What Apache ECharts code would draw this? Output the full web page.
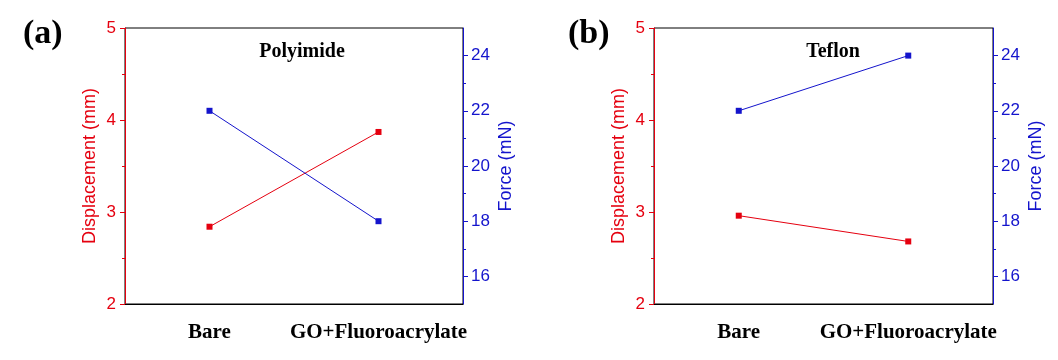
<!DOCTYPE html>
<html><head><meta charset="utf-8">
<script src="https://cdn.jsdelivr.net/npm/echarts@6/dist/echarts.min.js"></script>
<style>html,body{margin:0;padding:0;background:#fff}#c{width:1058px;height:360px}</style>
</head><body><div id="c"></div>
<script>
const categories = ['Bare', 'GO+Fluoroacrylate'];
const panelTitles = ['Polyimide', 'Teflon'];
const panelLabels = ['(a)', '(b)'];
const dispPolyimide = [2.84, 3.87];
const forcePolyimide = [22.0, 18.0];
const dispTeflon = [2.96, 2.68];
const forceTeflon = [22.0, 24.0];
const dispTicks = [2, 3, 4, 5];
const forceMajorTicks = [16, 18, 20, 22, 24];
const forceMinorTicks = [17, 19, 21, 23];

const RED = '#e5000f', BLUE = '#1414cc';
const serif = '"Liberation Serif", "Times New Roman", serif';
const sans = '"Liberation Sans", Arial, sans-serif';

const grids = [
  {left: 125, right: 595, top: 28, bottom: 56},
  {left: 654, right: 65, top: 28, bottom: 56}
];
const option = {
  animation: false,
  backgroundColor: '#fff',
  title: [
    {text: panelLabels[0], left: 18, top: 12, textStyle: {fontFamily: serif, fontWeight: 'bold', fontSize: 34, color: '#000'}},
    {text: panelLabels[1], left: 563, top: 12, textStyle: {fontFamily: serif, fontWeight: 'bold', fontSize: 34, color: '#000'}},
    {text: panelTitles[0], left: 297, top: 37, textAlign: 'center', textStyle: {fontFamily: serif, fontWeight: 'bold', fontSize: 20, color: '#000'}},
    {text: panelTitles[1], left: 828, top: 37, textAlign: 'center', textStyle: {fontFamily: serif, fontWeight: 'bold', fontSize: 20, color: '#000'}}
  ],
  grid: grids.map(g => Object.assign({show: true, borderColor: '#000', borderWidth: 1, backgroundColor: 'transparent'}, g)),
  xAxis: [0, 1].map(i => ({
    type: 'category', gridIndex: i, data: categories, boundaryGap: true,
    axisLine: {lineStyle: {color: '#000', width: 1}},
    axisTick: {show: false},
    axisLabel: {interval: 0, fontFamily: serif, fontWeight: 'bold', fontSize: 21, color: '#000', margin: 18}
  })),
  yAxis: [],
  series: []
};
[0, 1].forEach(i => {
  option.yAxis.push({
    type: 'value', gridIndex: i, position: 'left', min: 2, max: 5, interval: 1,
    name: 'Displacement (mm)', nameLocation: 'middle', nameGap: 26, nameRotate: 90,
    nameTextStyle: {fontFamily: sans, fontSize: 18, color: RED},
    axisLine: {show: true, lineStyle: {color: RED, width: 1}},
    axisTick: {show: true, inside: false, length: 5, lineStyle: {color: RED}},
    minorTick: {show: true, splitNumber: 2, length: 3, lineStyle: {color: RED}},
    axisLabel: {fontFamily: sans, fontSize: 17, color: RED, margin: 9, customValues: dispTicks},
    splitLine: {show: false}
  });
  option.yAxis.push({
    type: 'value', gridIndex: i, position: 'right', min: 15, max: 25, interval: 1,
    name: 'Force (mN)', nameLocation: 'middle', nameGap: 34, nameRotate: 90,
    nameTextStyle: {fontFamily: sans, fontSize: 18, color: BLUE},
    axisLine: {show: true, lineStyle: {color: BLUE, width: 1}},
    axisTick: {show: true, inside: false, length: 5, lineStyle: {color: BLUE}, customValues: forceMajorTicks},
    axisLabel: {fontFamily: sans, fontSize: 17, color: BLUE, margin: 8, customValues: forceMajorTicks},
    splitLine: {show: false}
  });
  option.yAxis.push({
    type: 'value', gridIndex: i, position: 'right', min: 15, max: 25, interval: 1,
    axisLine: {show: false},
    axisTick: {show: true, inside: false, length: 3, lineStyle: {color: BLUE}, customValues: forceMinorTicks},
    axisLabel: {show: false},
    splitLine: {show: false}
  });
});
const disp = [dispPolyimide, dispTeflon];
const force = [forcePolyimide, forceTeflon];
[0, 1].forEach(i => {
  option.series.push({
    type: 'line', xAxisIndex: i, yAxisIndex: i * 3, data: disp[i],
    symbol: 'rect', symbolSize: 6, showSymbol: true,
    lineStyle: {color: RED, width: 1}, itemStyle: {color: RED}
  });
  option.series.push({
    type: 'line', xAxisIndex: i, yAxisIndex: i * 3 + 1, data: force[i],
    symbol: 'rect', symbolSize: 6, showSymbol: true,
    lineStyle: {color: BLUE, width: 1}, itemStyle: {color: BLUE}
  });
});
const chart = echarts.init(document.getElementById('c'));
chart.setOption(option);
</script>
</body></html>
